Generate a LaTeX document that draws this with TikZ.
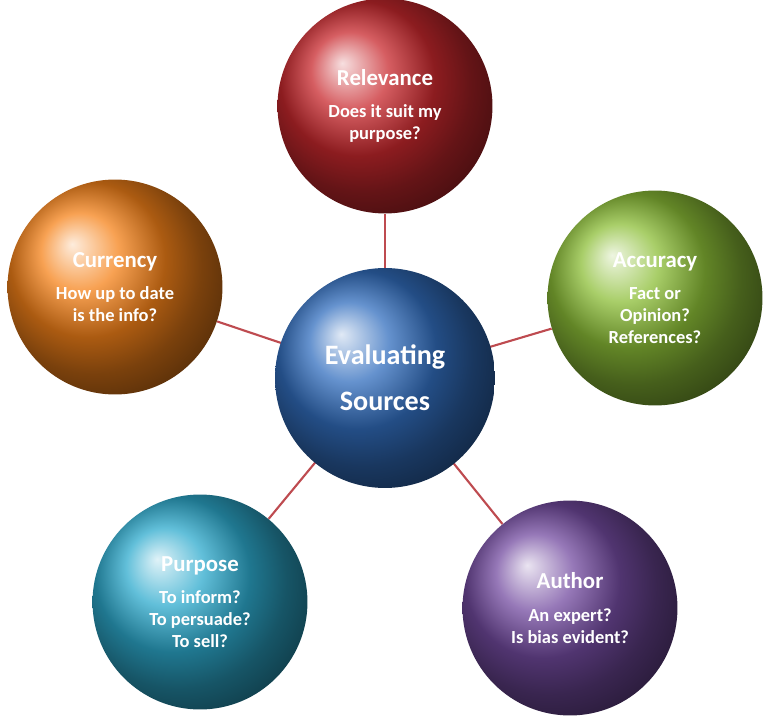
\documentclass[tikz,border=0pt]{standalone}
\usepackage{fontspec}
\setmainfont{Carlito}
\usetikzlibrary{positioning}
\definecolor{relred}{RGB}{200,40,45}
\definecolor{accgreen}{RGB}{140,190,55}
\definecolor{authpurple}{RGB}{115,75,160}
\definecolor{purpblue}{RGB}{45,170,205}
\definecolor{curorange}{RGB}{245,130,25}
\definecolor{evalblue}{RGB}{50,110,190}
\definecolor{linkred}{RGB}{190,75,80}
\tikzset{
  ball/.style={circle, minimum size=4.3cm, inner sep=0pt, align=center,
    text=white, font=\bfseries\fontsize{10.5}{12.5}\selectfont, shading=ball, ball color=#1},
  link/.style={draw=linkred, line width=1.2pt}
}
\newcommand{\topicname}{\fontsize{13}{16}\selectfont}
\newcommand{\topictext}{\fontsize{10.5}{12.5}\selectfont}
\begin{document}
\begin{tikzpicture}[x=0.02cm, y=-0.02cm]
	\useasboundingbox (0,0) rectangle (768,723);
	% outer circles
	\node[ball=relred] (rel) at (385,106) {\topicname Relevance\\[6pt]\topictext Does it suit my\\purpose?};
	\node[ball=accgreen] (acc) at (655,298) {\topicname Accuracy\\[6pt]\topictext Fact or\\Opinion?\\References?};
	\node[ball=authpurple] (aut) at (570,608) {\topicname Author\\[6pt]\topictext An expert?\\Is bias evident?};
	\node[ball=purpblue] (pur) at (200,602) {\topicname Purpose\\[6pt]\topictext To inform?\\To persuade?\\To sell?};
	\node[ball=curorange] (cur) at (115,287) {\topicname Currency\\[6pt]\topictext How up to date\\is the info?};
	% links
	\foreach \n in {rel,acc,aut,pur,cur}
		\draw[link] (385,378) -- (\n);
	\node[ball=evalblue, minimum size=4.4cm, font=\bfseries\fontsize{16}{26}\selectfont] (eval) at (385,378)
		{Evaluating\\Sources};
\end{tikzpicture}
\end{document}
